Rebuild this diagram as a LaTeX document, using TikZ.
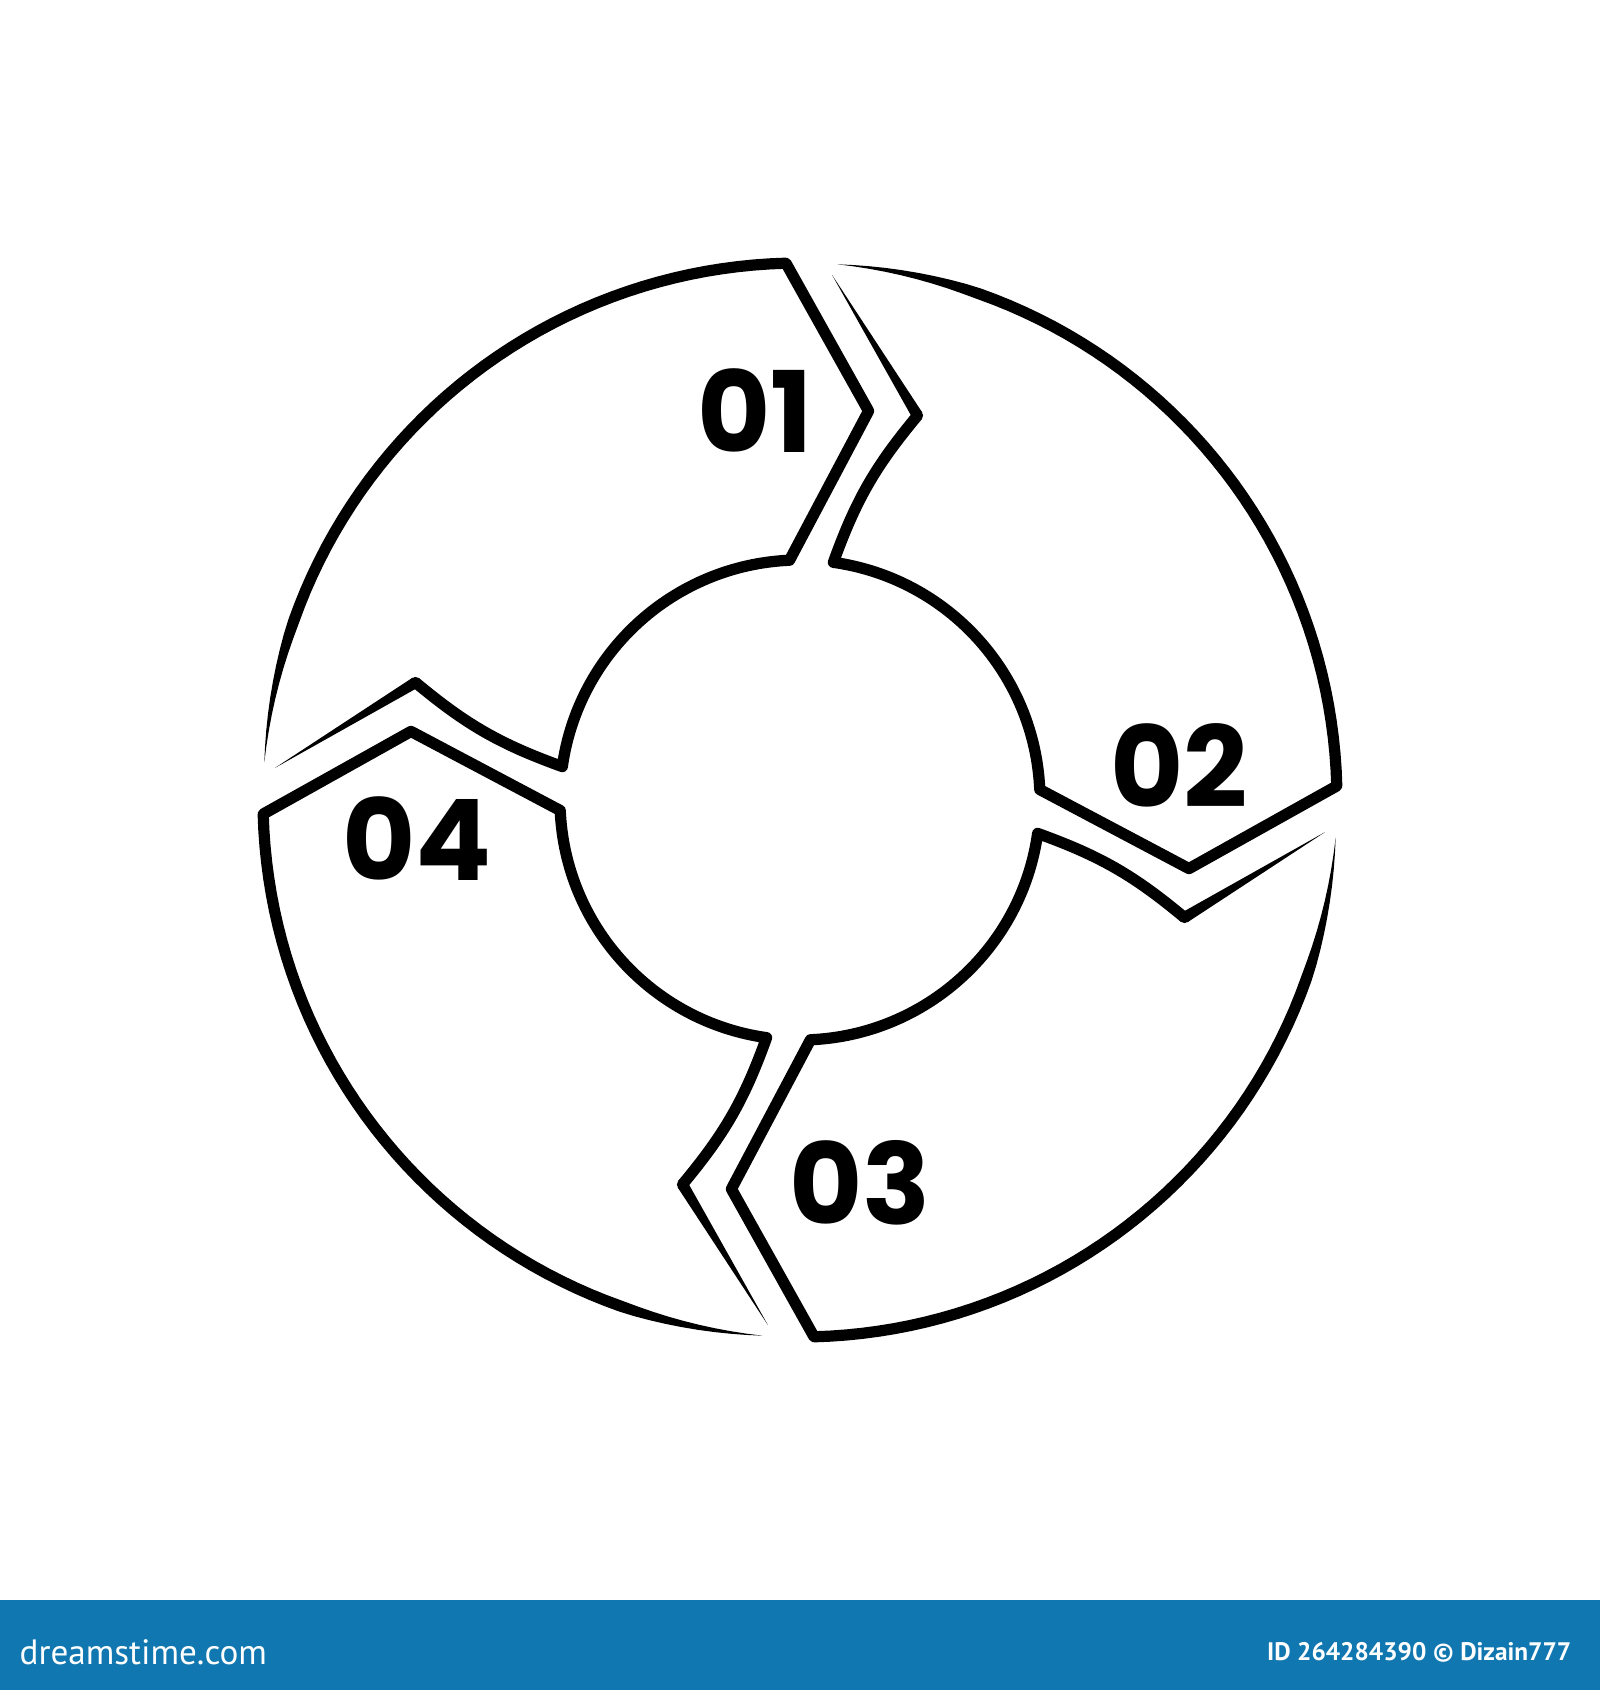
\documentclass[tikz,border=0pt]{standalone}
\usepackage{fontspec}
\usetikzlibrary{calc}
\newfontfamily\numfont{Poppins}
\newfontfamily\bannerfont{PT Sans}
\definecolor{bannerblue}{RGB}{17,119,176}

\begin{document}
\begin{tikzpicture}[x=0.01cm,y=0.01cm,
  seg/.style={line width=3.2pt, line join=round, line cap=round},
  num/.style={font=\numfont\bfseries\fontsize{32}{32}\selectfont, inner sep=0pt}]
\useasboundingbox (-800,-890) rectangle (800,800);
\fill[white] (-800,-890) rectangle (800,800);
% four ring pieces, each one turned by a quarter
\foreach \k in {0,1,2,3}{
\begin{scope}[rotate=-90*\k]
\coordinate (tipo) at (91.5:537);
\coordinate (tipp) at (80:395);
\coordinate (tipi) at (92.5:240);
\coordinate (nchp) at (163:402);
\coordinate (ncho) at (176.5:526);
% outer rim, thin where it starts
\fill plot[domain=91.5:176,samples=50,variable=\t] (\t:{537+5.6*min(1,(176-\t)/15)})
  -- plot[domain=176:91.5,samples=50,variable=\t] (\t:{537-5.6*min(1,(176-\t)/15)}) -- cycle;
\draw[seg] (tipo) -- (tipp) -- (tipi) arc[start angle=92.5,end angle=172,radius=240]
  to[bend left=10] (nchp);
\fill ($(nchp)!1.6pt!90:(ncho)$) -- (ncho) -- ($(nchp)!1.6pt!-90:(ncho)$) -- cycle;
\end{scope}
}
\node[num] (lbl01) at (-45,389) {01};
\node[num] (lbl02) at (379,34) {02};
\node[num] (lbl03) at (60,-383) {03};
\node[num] (lbl04) at (-383,-39) {04};
% banner
\fill[bannerblue] (-800,-890) rectangle (800,-800);
\node[font=\bannerfont\fontsize{10}{10}\selectfont, text=white, anchor=west, inner sep=0pt] (site) at (-781,-852) {dreamstime.com};
\node[font=\bannerfont\bfseries\fontsize{7.2}{7.2}\selectfont, text=white, anchor=east, inner sep=0pt] (credit) at (772,-852) {ID 264284390 © Dizain777};
\end{tikzpicture}
\end{document}
